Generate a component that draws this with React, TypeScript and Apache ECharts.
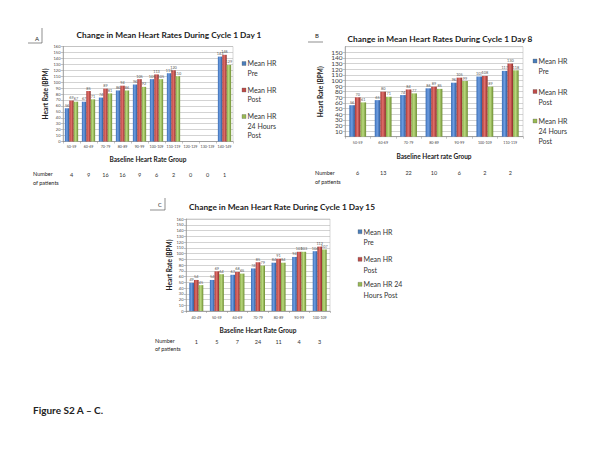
import React, { useEffect, useRef } from "react";
import * as echarts from "echarts";

// Panel A – Cycle 1 Day 1
const groupsA = ["50-59", "60-69", "70-79", "80-89", "90-99", "100-109", "110-119", "120-129", "130-139", "140-149"];
const preA = [56, 67, 74, 86, 96, 105, 115, null, null, 143];
const postA = [69, 85, 89, 94, 105, 113, 120, null, null, 146];
const h24A = [67, 71, 81, 86, 92, 105, 110, null, null, 129];
const patientsA = ["4", "9", "16", "16", "9", "6", "2", "0", "0", "1"];

// Panel B – Cycle 1 Day 8
const groupsB = ["50-59", "60-69", "70-79", "80-89", "90-99", "100-109", "110-119"];
const preB = [56, 65, 74, 86, 96, 107, 117];
const postB = [70, 80, 84, 89, 105, 108, 130];
const h24B = [61, 71, 77, 85, 99, 89, 118];
const patientsB = ["6", "13", "22", "10", "6", "2", "2"];

// Panel C – Cycle 1 Day 15
const groupsC = ["40-49", "50-59", "60-69", "70-79", "80-89", "90-99", "100-109"];
const preC = [49, 54, 63, 74, 84, 94, 104];
const postC = [54, 69, 68, 85, 91, 103, 112];
const h24C = [45, 64, 65, 79, 84, 103, 107];
const patientsC = ["1", "5", "7", "24", "11", "4", "3"];

const FONT = "Lato, 'Noto Sans', sans-serif";

const grad = (a: string, b: string, c: string) => ({
  type: "linear",
  x: 0,
  y: 0,
  x2: 1,
  y2: 0,
  colorStops: [
    { offset: 0, color: a },
    { offset: 0.45, color: b },
    { offset: 1, color: c },
  ],
});

const BLUE = grad("#3a6db5", "#6d9de2", "#2b5797");
const RED = grad("#a83936", "#e2706b", "#8a2a27");
const GREEN = grad("#86aa45", "#bad97e", "#6c8d31");
const SOLID = { blue: "#4a7ebb", red: "#be4b48", green: "#98b954" };

type Panel = {
  grid: { left: number; top: number; width: number; height: number };
  groups: string[];
  patients: string[];
  series: (number | null)[][];
  xName: string;
  yLabelSize: number;
  yNameGap: number;
  xNameGap: number;
  xLabelMargin: number;
  patientMargin: number;
  catGap: string;
};

const panels: Panel[] = [
  {
    grid: { left: 63, top: 46.5, width: 170, height: 95 },
    groups: groupsA,
    patients: patientsA,
    series: [preA, postA, h24A],
    xName: "Baseline Heart Rate Group",
    yLabelSize: 4,
    yNameGap: 14,
    xNameGap: 14.5,
    xLabelMargin: 3,
    patientMargin: 30,
    catGap: "22%",
  },
  {
    grid: { left: 345, top: 46.7, width: 178, height: 90 },
    groups: groupsB,
    patients: patientsB,
    series: [preB, postB, h24B],
    xName: "Baseline Heart rate Group",
    yLabelSize: 6.5,
    yNameGap: 21,
    xNameGap: 16.5,
    xLabelMargin: 4,
    patientMargin: 33,
    catGap: "34%",
  },
  {
    grid: { left: 186, top: 219, width: 144, height: 92 },
    groups: groupsC,
    patients: patientsC,
    series: [preC, postC, h24C],
    xName: "Baseline Heart Rate Group",
    yLabelSize: 4,
    yNameGap: 13,
    xNameGap: 16,
    xLabelMargin: 4,
    patientMargin: 27.5,
    catGap: "32%",
  },
];

const seriesNames = ["Mean HR Pre", "Mean HR Post", "Mean HR 24 Hours Post"];
const fills = [BLUE, RED, GREEN];
const solids = [SOLID.blue, SOLID.red, SOLID.green];

function legendBlock(x: number, firstY: number[], lines: string[][], lh: number) {
  const els: any[] = [];
  lines.forEach((ls, i) => {
    els.push({
      type: "rect",
      shape: { x, y: firstY[i] - 2, width: 4, height: 4 },
      style: { fill: solids[i], stroke: "#555", lineWidth: 0.3 },
    });
    els.push({
      type: "text",
      x: x + 5.5,
      y: firstY[i] - lh / 2,
      style: {
        text: ls.join("\n"),
        fontSize: 7,
        fontFamily: FONT,
        fill: "#333",
        lineHeight: lh,
        align: "left",
        verticalAlign: "top",
      },
    });
  });
  return els;
}

function txt(x: number, y: number, text: string, size: number, bold = false, align = "left") {
  return {
    type: "text",
    x,
    y,
    style: {
      text,
      fontSize: size,
      fontWeight: bold ? "bold" : "normal",
      fontFamily: FONT,
      fill: "#222",
      align,
      verticalAlign: "middle",
    },
  };
}

function line(x1: number, y1: number, x2: number, y2: number) {
  return {
    type: "line",
    shape: { x1, y1, x2, y2 },
    style: { stroke: "#444", lineWidth: 0.6 },
  };
}

export default function App() {
  const ref = useRef<HTMLDivElement>(null);

  useEffect(() => {
    document.body.style.margin = "0";
    if (!ref.current) return;
    const chart = echarts.init(ref.current, undefined, { renderer: "svg" });

    const grids: any[] = [];
    const xAxes: any[] = [];
    const yAxes: any[] = [];
    const series: any[] = [];

    panels.forEach((p, gi) => {
      grids.push({ ...p.grid, outerBoundsMode: "none", containLabel: false, show: true, borderColor: "#bdbdbd", borderWidth: 0.6 });
      xAxes.push({
        type: "category",
        gridIndex: gi,
        data: p.groups,
        name: p.xName,
        nameLocation: "middle",
        nameGap: p.xNameGap,
        nameTextStyle: { fontSize: 6.5, fontWeight: "bold", fontFamily: FONT, color: "#222" },
        axisLine: { lineStyle: { color: "#888", width: 0.6 } },
        axisTick: { show: true, length: 2, lineStyle: { color: "#888", width: 0.5 } },
        axisLabel: { interval: 0, fontSize: 3.6, fontFamily: FONT, color: "#444", margin: p.xLabelMargin },
      });
      xAxes.push({
        type: "category",
        gridIndex: gi,
        position: "bottom",
        data: p.patients,
        axisLine: { show: false },
        axisTick: { show: false },
        splitLine: { show: false },
        axisLabel: { interval: 0, fontSize: 5.5, fontFamily: FONT, color: "#333", margin: p.patientMargin },
      });
      yAxes.push({
        type: "value",
        gridIndex: gi,
        min: 0,
        max: 160,
        interval: 10,
        name: "Heart Rate (BPM)",
        nameLocation: "middle",
        nameGap: p.yNameGap,
        nameTextStyle: { fontSize: 6.5, fontWeight: "bold", fontFamily: FONT, color: "#222" },
        axisLine: { show: true, lineStyle: { color: "#888", width: 0.6 } },
        axisTick: { show: true, length: 2, lineStyle: { color: "#888", width: 0.5 } },
        axisLabel: { fontSize: p.yLabelSize, fontFamily: FONT, color: "#444", margin: 2.5, hideOverlap: false },
        splitLine: { show: true, lineStyle: { color: "#b5b5b5", width: 0.6 } },
      });
      p.series.forEach((vals, si) => {
        series.push({
          type: "bar",
          name: seriesNames[si],
          xAxisIndex: gi * 2,
          yAxisIndex: gi,
          data: vals,
          barGap: "0%",
          barCategoryGap: p.catGap,
          itemStyle: { color: fills[si] },
          label: {
            show: true,
            position: "top",
            distance: 1,
            fontSize: 3.8,
            fontFamily: FONT,
            color: "#555",
          },
        });
      });
    });

    const graphic: any[] = [
      // panel tags
      txt(35, 38, "A", 6),
      line(42, 28, 42, 43),
      line(28, 43, 42, 43),
      txt(315, 35, "B", 6),
      line(308, 42, 323, 42),
      txt(158, 205, "C", 5.5),
      line(165, 198, 165, 210),
      line(150, 210, 165, 210),
      // titles
      txt(169, 35, "Change in Mean Heart Rates During Cycle 1 Day 1", 8.3, true, "center"),
      txt(440, 39, "Change in Mean Heart Rates During Cycle 1 Day 8", 8.3, true, "center"),
      txt(282, 207, "Change in Mean Heart Rate During Cycle 1 Day 15", 8.3, true, "center"),
      // patient count captions
      txt(33, 174, "Number", 5.5),
      txt(33, 182.5, "of patients", 5.5),
      txt(315, 172.7, "Number", 5.5),
      txt(315, 181.7, "of patients", 5.5),
      txt(155, 341, "Number", 5.5),
      txt(155, 349, "of patients", 5.5),
      // legends
      ...legendBlock(242, [63.5, 90, 116.5], [["Mean HR", "Pre"], ["Mean HR", "Post"], ["Mean HR", "24 Hours", "Post"]], 9.3),
      ...legendBlock(533, [61, 91.5, 121], [["Mean HR", "Pre"], ["Mean HR", "Post"], ["Mean HR", "24 Hours", "Post"]], 10),
      ...legendBlock(358, [231.7, 259.3, 284.3], [["Mean HR", "Pre"], ["Mean HR", "Post"], ["Mean HR 24", "Hours Post"]], 10.5),
      // figure caption
      txt(33, 410, "Figure S2 A \u2013 C.", 10, true),
    ];

    chart.setOption({
      animation: false,
      backgroundColor: "#ffffff",
      textStyle: { fontFamily: FONT },
      grid: grids,
      xAxis: xAxes,
      yAxis: yAxes,
      series,
      graphic,
    });

    return () => chart.dispose();
  }, []);

  return <div ref={ref} style={{ width: 600, height: 464 }} />;
}
